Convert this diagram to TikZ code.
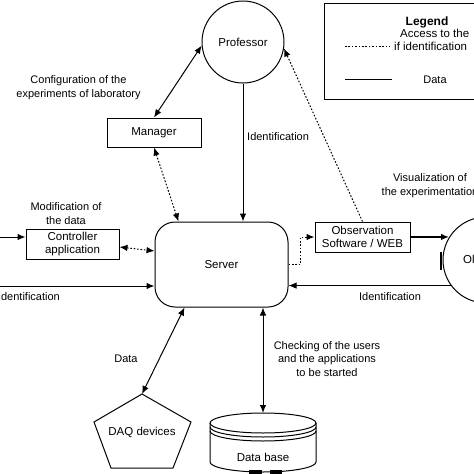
\documentclass[tikz,border=0pt]{standalone}
\usepackage{fontspec}
\setmainfont{Liberation Sans}
\usetikzlibrary{arrows.meta,calc}
\begin{document}
\begin{tikzpicture}[x=1pt,y=-1pt,
  every node/.style={font=\fontsize{11}{13.5}\selectfont},
  ln/.style={line width=1pt},
  conn/.style={line width=1pt, >={Latex[length=8pt,width=6.5pt]}},
  dotline/.style={conn, dash pattern=on 1.6pt off 1.8pt},
  box/.style={draw, line width=1pt, inner sep=0pt, align=center, font=\fontsize{11.5}{13.5}\selectfont},
  lbl/.style={align=center, inner sep=0pt}]
\useasboundingbox (0,0) rectangle (474,474);

% nodes
\node[box, circle, minimum size=82pt] (prof) at (243,42) {Professor};
\node[box, minimum width=94pt, minimum height=29pt] (mgr) at (154,132.5) {Manager};
\node[box, minimum width=93pt, minimum height=30pt] (ctrl) at (72.5,244) {Controller\\application};
\node[box, rounded corners=20pt, minimum width=133pt, minimum height=85pt] (srv) at (221.5,264.5) {Server};
\node[box, minimum width=95pt, minimum height=30pt] (obs) at (362.5,237) {Observation\\Software / WEB};
\node[box, circle, minimum size=86pt] (oi) at (486,260) {};
\node[lbl, anchor=west, font=\fontsize{11.5}{13.5}\selectfont] (oitext) at (463,259) {Ol};
\draw[line width=2pt] (441,252) -- (441,270);

% DAQ pentagon
\draw[ln] (142,394) -- (191,422) -- (173,468) -- (111,468) -- (94,422) -- cycle;
\node[lbl, font=\fontsize{11.5}{13.5}\selectfont] (daq) at (142,432) {DAQ devices};
\coordinate (daqtop) at (142,394);

% database cylinder
\coordinate (dbtop) at (263,413);
\draw[ln] (263,423) ellipse[x radius=53pt, y radius=10pt];
\draw[ln] (210,427) arc[start angle=180, end angle=360, x radius=53pt, y radius=10pt];
\draw[ln] (210,431) arc[start angle=180, end angle=360, x radius=53pt, y radius=10pt];
\draw[ln] (210,423) -- (210,462) arc[start angle=180, end angle=360, x radius=53pt, y radius=10pt] -- (316,423);
\node[lbl, font=\fontsize{11.5}{13.5}\selectfont] (db) at (263,457) {Data base};
\fill (249,470) rectangle (262,474);
\fill (270,470) rectangle (282,474);

% connectors
\draw[conn,<->] (mgr.north) -- (prof.185);
\draw[conn,->] (prof.south) -- (prof.south |- srv.north);
\draw[dotline,->] (obs.north) -- (prof.-9);
\draw[dotline,<->] (mgr.south) -- ([xshift=24pt]srv.north west);
\draw[dotline,<->] ([yshift=-3pt]ctrl.east) -- ([yshift=13.5pt]srv.west);
\coordinate (inA) at (0,237);
\draw[conn,->] (inA) -- (inA -| ctrl.west);
\coordinate (inB) at (0,286);
\draw[conn,->] (inB) -- (inB -| srv.west);
\draw[dotline,->] (srv.east) -- ++(12,0) |- (obs.west);
\draw[conn,->,line width=1.8pt] (obs.east) -- (oi.148);
\draw[conn,->] (oi.216) -- (oi.216 -| srv.east);
\draw[conn,<->] ([xshift=30pt]srv.south west) -- (daqtop);
\draw[conn,<->] (dbtop |- srv.south) -- (dbtop);

% labels
\node[lbl] (cfg) at (78.5,87.5) {Configuration of the\\experiments of laboratory};
\node[lbl, anchor=west] (idtop) at (247,137) {Identification};
\node[lbl] (mod) at (66,213.5) {Modification of\\the data};
\node[lbl, anchor=east] (idleft) at (60,297) {Identification};
\node[lbl] (idright) at (390,297) {Identification};
\node[lbl] (vis) at (430,185.5) {Visualization of\\the experimentation};
\node[lbl] (chk) at (327,359) {Checking of the users\\and the applications\\to be started};
\node[lbl] (dlab) at (126,359) {Data};

% legend
\draw[ln] (324,3) rectangle (480,99);
\node[lbl, font=\bfseries\fontsize{12}{14}\selectfont] (lgT) at (427,22) {Legend};
\node[lbl, anchor=west, font=\fontsize{11.5}{13.5}\selectfont] (lgA) at (400,33) {Access to the};
\node[lbl, anchor=west, font=\fontsize{11.5}{13.5}\selectfont] (lgB) at (394,46) {if identification};
\coordinate (lgd1) at (345,46);
\coordinate (lgd2) at (390,46);
\draw[dotline] (lgd1) -- (lgd2);
\coordinate (lgs1) at (345,79);
\coordinate (lgs2) at (392,79);
\draw[ln] (lgs1) -- (lgs2);
\node[lbl] (lgD) at (435,80) {Data};
\end{tikzpicture}
\end{document}
